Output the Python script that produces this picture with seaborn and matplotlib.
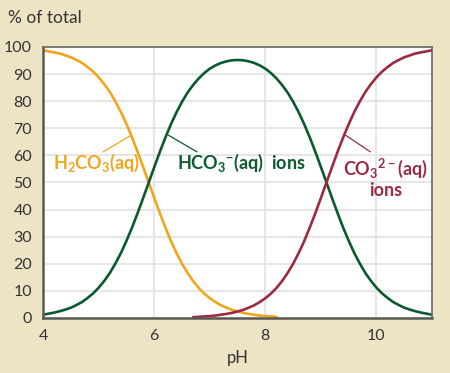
import matplotlib
matplotlib.use("Agg")
import matplotlib.pyplot as plt
from matplotlib import font_manager
import seaborn as sns

# values (% of total carbonate species vs pH)
ph = [4.0, 4.1, 4.2, 4.3, 4.4, 4.5, 4.6, 4.7, 4.8, 4.9,
      5.0, 5.1, 5.2, 5.3, 5.4, 5.5, 5.6, 5.7, 5.8, 5.9,
      6.0, 6.1, 6.2, 6.3, 6.4, 6.5, 6.6, 6.7, 6.8, 6.9,
      7.0, 7.1, 7.2, 7.3, 7.4, 7.5, 7.6, 7.7, 7.8, 7.9,
      8.0, 8.1, 8.2, 8.3, 8.4, 8.5, 8.6, 8.7, 8.8, 8.9,
      9.0, 9.1, 9.2, 9.3, 9.4, 9.5, 9.6, 9.7, 9.8, 9.9,
      10.0, 10.1, 10.2, 10.3, 10.4, 10.5, 10.6, 10.7, 10.8, 10.9, 11.0]

# H2CO3: pH 4.0 .. 8.2
h2co3 = [98.8, 98.4, 98.0, 97.6, 96.9, 96.2, 95.2, 94.1, 92.6, 90.9,
         88.8, 86.3, 83.4, 79.9, 76.0, 71.5, 66.6, 61.3, 55.7, 50.0,
         44.3, 38.7, 33.4, 28.4, 24.0, 20.0, 16.6, 13.6, 11.1, 9.0,
         7.3, 5.9, 4.7, 3.8, 3.0, 2.4, 1.9, 1.5, 1.2, 0.9,
         0.7, 0.6, 0.4]

# HCO3-: pH 4.0 .. 11.0
hco3 = [1.2, 1.6, 2.0, 2.5, 3.1, 3.8, 4.8, 5.9, 7.4, 9.1,
        11.2, 13.7, 16.6, 20.1, 24.0, 28.5, 33.4, 38.7, 44.3, 50.0,
        55.7, 61.3, 66.6, 71.5, 75.9, 79.8, 83.2, 86.0, 88.4, 90.4,
        92.0, 93.2, 94.1, 94.7, 95.1, 95.2, 95.1, 94.7, 94.1, 93.2,
        92.0, 90.4, 88.4, 86.0, 83.2, 79.8, 75.9, 71.5, 66.6, 61.3,
        55.7, 50.0, 44.3, 38.7, 33.4, 28.5, 24.0, 20.1, 16.6, 13.7,
        11.2, 9.1, 7.4, 5.9, 4.8, 3.8, 3.1, 2.5, 2.0, 1.6, 1.2]

# CO3 2-: pH 6.7 .. 11.0
co3 = [0.3, 0.4, 0.6,
       0.7, 0.9, 1.2, 1.5, 1.9, 2.4, 3.0, 3.8, 4.7, 5.9,
       7.3, 9.0, 11.1, 13.6, 16.6, 20.0, 24.0, 28.4, 33.4, 38.7,
       44.3, 50.0, 55.7, 61.3, 66.6, 71.5, 76.0, 79.9, 83.4, 86.3,
       88.8, 90.9, 92.6, 94.1, 95.2, 96.2, 96.9, 97.6, 98.0, 98.4, 98.8]

ph_h2co3 = ph[:len(h2co3)]
ph_co3 = ph[-len(co3):]

x_ticks = [4, 6, 8, 10]
y_ticks = [0, 10, 20, 30, 40, 50, 60, 70, 80, 90, 100]

bg = "#ede4c6"
orange = "#f0a61c"
green = "#0b5a2f"
maroon = "#9c2a40"

sns.set_style("whitegrid")
plt.rcParams["font.family"] = ["Lato", "DejaVu Sans"]

installed = {f.name for f in font_manager.fontManager.ttflist}
label_font = "Liberation Sans Narrow" if "Liberation Sans Narrow" in installed else "Lato"

fig = plt.figure(figsize=(4.5, 3.73), dpi=100, facecolor=bg)
ax = fig.add_axes([0.096, 0.1475, 0.864, 0.7265])
ax.set_facecolor("white")

sns.lineplot(x=ph_h2co3, y=h2co3, color=orange, lw=1.9, ax=ax)
sns.lineplot(x=ph, y=hco3, color=green, lw=1.9, ax=ax)
sns.lineplot(x=ph_co3, y=co3, color=maroon, lw=1.9, ax=ax)

ax.set_xlim(4, 11)
ax.set_ylim(0, 100)
ax.set_xticks(x_ticks)
ax.set_yticks(y_ticks)
ax.grid(True, color="#e2e2e2", lw=1.2)
ax.tick_params(length=0, labelsize=11.5, colors="#333333")
ax.tick_params(axis="x", pad=8)
ax.tick_params(axis="y", pad=8)

for side in ["left", "bottom"]:
    ax.spines[side].set_color("#5a5a52")
    ax.spines[side].set_linewidth(1.8)
for side in ["top", "right"]:
    ax.spines[side].set_color("#6a6a62")
    ax.spines[side].set_linewidth(1.2)

ax.set_xlabel("pH", fontsize=12, color="#333333", labelpad=5)
ax.set_ylabel("")
fig.text(0.018, 0.952, "% of total", fontsize=12.5, color="#333333", va="center")

lab = dict(fontsize=13, fontweight="bold", ha="center", va="center",
           family=[label_font, "DejaVu Sans"])
ax.text(4.955, 57.2, r"H$\mathregular{_2}$CO$\mathregular{_3}$(aq)", color=orange, **lab)
ax.plot([5.08, 5.59], [61.3, 67.5], color=orange, lw=0.9)
ax.text(7.57, 57.2, r"HCO$\mathregular{_3{}^{-}}$(aq)  ions", color=green, **lab)
ax.plot([6.25, 6.77], [67.5, 61.3], color=green, lw=0.9)
ax.text(10.16, 51.8, "CO$\\mathregular{_3{}^{2-}}$(aq)\nions", color=maroon,
        linespacing=1.15, **lab)
ax.plot([9.44, 9.89], [67.5, 61.3], color=maroon, lw=0.9)

fig.savefig("out.png", dpi=100, facecolor=bg)
